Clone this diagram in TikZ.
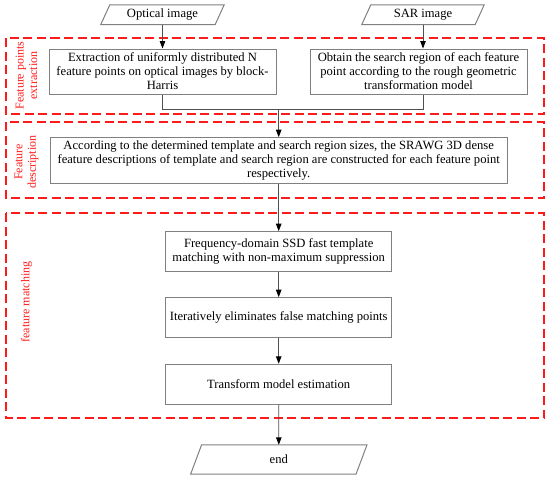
\documentclass[tikz,border=0pt]{standalone}
\usepackage{fontspec}
\setmainfont{Liberation Serif}
\usetikzlibrary{arrows.meta,calc}
\definecolor{boxgray}{HTML}{808080}
\definecolor{linegray}{HTML}{505050}
\definecolor{redgrp}{HTML}{FF1A1A}
\newcommand\paraslant[2]{\draw[boxline] ([xshift=-#2]#1.south west) -- ([xshift=#2]#1.north west) -- ([xshift=#2]#1.north east) -- ([xshift=-#2]#1.south east) -- cycle;}
\begin{document}
\begin{tikzpicture}[x=1pt,y=-1pt,
  every node/.style={font=\fontsize{12.6}{14}\selectfont},
  boxline/.style={draw=boxgray,line width=1pt},
  procbox/.style={boxline,rectangle,inner sep=0pt,align=center,fill=white},
  iobox/.style={inner sep=0pt,align=center},
  groupbox/.style={draw=redgrp,line width=1.8pt,dash pattern=on 9pt off 4.5pt},
  grouplabel/.style={text=redgrp,rotate=90,align=center,font=\fontsize{12}{13.5}\selectfont},
  conn/.style={draw=linegray,line width=0.9pt},
  arr/.style={conn,-{Triangle[width=5.5pt,length=7.5pt,color=black]}}]
\useasboundingbox (0,0) rectangle (550,480);
% group frames
\draw[groupbox] (6,38) rectangle (544,114);
\draw[groupbox] (6,122) rectangle (544,198);
\draw[groupbox] (6,213) rectangle (544,418);
\node[grouplabel] (lab1) at (26.5,75.5) {Feature points\\extraction};
\node[grouplabel] (lab2) at (26.5,162) {Feature\\description};
\node[grouplabel] (lab3) at (26.5,302) {feature matching};
% inputs
\node[iobox,minimum width=114pt,minimum height=19.3pt] (opt) at (162.5,14.65) {Optical image};
\paraslant{opt}{4.5pt}
\node[iobox,minimum width=113pt,minimum height=19.3pt] (sar) at (423,14.65) {SAR image};
\paraslant{sar}{4.5pt}
% boxes
\node[procbox,minimum width=227pt,minimum height=45pt] (b1) at (162.5,71.5)
  {Extraction of uniformly distributed N\\feature points on optical images by block-\\Harris};
\node[procbox,minimum width=217pt,minimum height=45pt] (b2) at (418.5,71.5)
  {Obtain the search region of each feature\\point according to the rough geometric\\transformation model};
\node[procbox,minimum width=457.3pt,minimum height=45.6pt] (b3) at (278.7,160.5)
  {According to the determined template and search region sizes, the SRAWG 3D dense\\feature descriptions of template and search region are constructed for each feature point\\respectively.};
\node[procbox,minimum width=226pt,minimum height=39.3pt] (b4) at (278.7,251.35)
  {Frequency-domain SSD fast template\\matching with non-maximum suppression};
\node[procbox,minimum width=226pt,minimum height=40pt] (b5) at (278.7,317.7)
  {Iteratively eliminates false matching points};
\node[procbox,minimum width=226pt,minimum height=40pt] (b6) at (278.7,384.3)
  {Transform model estimation};
\node[iobox,minimum width=165pt,minimum height=29pt] (end) at (278.8,459.5) {end};
\paraslant{end}{5.5pt}
% connectors
\coordinate (m) at (278.7,109);
\draw[arr] (opt.south) -- (b1.north);
\draw[arr] (sar.south) -- (sar.south |- b2.north);
\draw[conn] (b1.south) |- (m);
\draw[conn] (sar.south |- b2.south) |- (m);
\draw[arr] (m) -- (b3.north);
\draw[arr] (b3.south) -- (b4.north);
\draw[arr] (b4.south) -- (b5.north);
\draw[arr] (b5.south) -- (b6.north);
\draw[arr] (b6.south) -- (end.north);
\end{tikzpicture}
\end{document}
